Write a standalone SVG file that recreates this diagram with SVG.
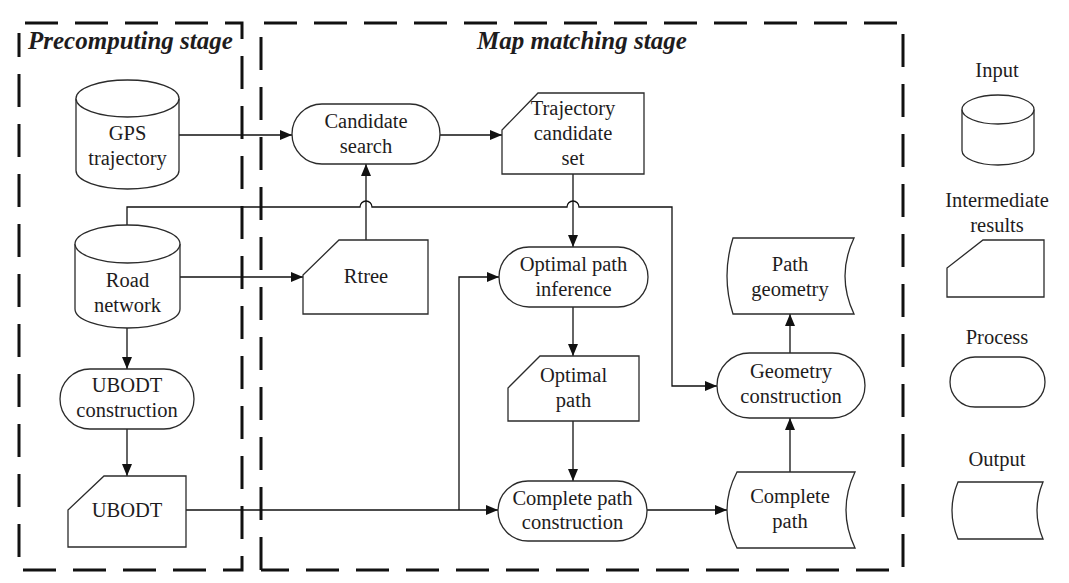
<svg xmlns="http://www.w3.org/2000/svg" width="1069" height="583" viewBox="0 0 1069 583">
<style>
.shape{fill:#fff;stroke:#2b2b2b;stroke-width:1.3}
.t{font-family:"Liberation Serif","Times New Roman",serif;font-size:20.5px;fill:#1e1c1d;text-anchor:middle}
.title{font-family:"Liberation Serif","Times New Roman",serif;font-size:25px;font-weight:bold;font-style:italic;fill:#1e1c1d}
.stage{fill:none;stroke:#111;stroke-width:3;stroke-dasharray:33 17}
.c{fill:none;stroke:#111;stroke-width:1.3}
.a{marker-end:url(#arr)}
</style>
<defs>
<marker id="arr" markerUnits="userSpaceOnUse" markerWidth="12" markerHeight="10" refX="12" refY="5" orient="auto">
<path d="M0,0 L12,5 L0,10 Z" fill="#111"/>
</marker>
</defs>
<rect width="1069" height="583" fill="#fff"/>

<g id="stages">
<path class="stage" d="M25,23 H242 V570 H19 V33"/>
<path class="stage" d="M261,570 V23 H903 V570 H261"/>
<text class="title" x="28" y="49">Precomputing stage</text>
<text class="title" x="477" y="49">Map matching stage</text>
</g>

<g id="connectors">
<path class="c a" d="M179,135 H292"/>
<path class="c a" d="M440,135 H502"/>
<path class="c a" d="M366,240 V164"/>
<path class="c a" d="M180,277 H303"/>
<path class="c a" d="M573,174 V247"/>
<path class="c a" d="M127,225 V207 H360 A6,6 0 0 1 372,207 H567 A6,6 0 0 1 579,207 H672 V386 H717"/>
<path class="c a" d="M127,328 V369"/>
<path class="c a" d="M127,429 V476"/>
<path class="c a" d="M186,510 H498"/>
<path class="c a" d="M459,510 V277 H499"/>
<path class="c a" d="M573,307 V356"/>
<path class="c a" d="M573,421 V481"/>
<path class="c a" d="M647,510 H727"/>
<path class="c a" d="M790,472 V418"/>
<path class="c a" d="M790,353 V314"/>
</g>

<g id="gps-trajectory">
<path class="shape" d="M76,98.5 V170.5 A51.5,18.5 0 0 0 179,170.5 V98.5"/>
<ellipse class="shape" cx="127.5" cy="98.5" rx="51.5" ry="18.5"/>
<text class="t" x="127.5" y="140">GPS</text>
<text class="t" x="127.5" y="165">trajectory</text>
</g>

<g id="road-network">
<path class="shape" d="M75,244 V309 A52.5,19 0 0 0 180,309 V244"/>
<ellipse class="shape" cx="127.5" cy="244" rx="52.5" ry="19"/>
<text class="t" x="127.5" y="287">Road</text>
<text class="t" x="127.5" y="312">network</text>
</g>

<g id="ubodt-construction">
<rect class="shape" x="60" y="369" width="134" height="60" rx="30"/>
<text class="t" x="127" y="392">UBODT</text>
<text class="t" x="127" y="417">construction</text>
</g>

<g id="ubodt">
<path class="shape" d="M104,476 H186 V547 H68 V510 Z"/>
<text class="t" x="127" y="517">UBODT</text>
</g>

<g id="candidate-search">
<rect class="shape" x="292" y="104" width="148" height="60" rx="30"/>
<text class="t" x="366" y="128">Candidate</text>
<text class="t" x="366" y="153">search</text>
</g>

<g id="rtree">
<path class="shape" d="M339,240 H428 V314 H303 V275 Z"/>
<text class="t" x="366" y="283">Rtree</text>
</g>

<g id="trajectory-candidate-set">
<path class="shape" d="M538,93 H644 V174 H502 V130 Z"/>
<text class="t" x="573" y="115">Trajectory</text>
<text class="t" x="573" y="140">candidate</text>
<text class="t" x="573" y="165">set</text>
</g>

<g id="optimal-path-inference">
<rect class="shape" x="499" y="247" width="149" height="60" rx="30"/>
<text class="t" x="573.5" y="271">Optimal path</text>
<text class="t" x="573.5" y="296">inference</text>
</g>

<g id="optimal-path">
<path class="shape" d="M540,356 H639 V421 H508 V388 Z"/>
<text class="t" x="573.5" y="382">Optimal</text>
<text class="t" x="573.5" y="407">path</text>
</g>

<g id="complete-path-construction">
<rect class="shape" x="498" y="481" width="149" height="60" rx="30"/>
<text class="t" x="572.5" y="505">Complete path</text>
<text class="t" x="572.5" y="529">construction</text>
</g>

<g id="complete-path">
<path class="shape" d="M737,472 H855 Q837,510 855,548 H737 Q717,510 737,472 Z"/>
<text class="t" x="790" y="503">Complete</text>
<text class="t" x="790" y="528">path</text>
</g>

<g id="geometry-construction">
<rect class="shape" x="717" y="353" width="148" height="65" rx="32.5"/>
<text class="t" x="791" y="378">Geometry</text>
<text class="t" x="791" y="403">construction</text>
</g>

<g id="path-geometry">
<path class="shape" d="M733,238 H854 Q836,276 854,314 H733 Q721,276 733,238 Z"/>
<text class="t" x="790" y="271">Path</text>
<text class="t" x="790" y="296">geometry</text>
</g>

<g id="legend-input">
<text class="t" x="997" y="77">Input</text>
<path class="shape" d="M962,109.5 V150.5 A36,14.5 0 0 0 1034,150.5 V109.5"/>
<ellipse class="shape" cx="998" cy="109.5" rx="36" ry="14.5"/>
</g>

<g id="legend-intermediate">
<text class="t" x="997" y="207">Intermediate</text>
<text class="t" x="997" y="232">results</text>
<path class="shape" d="M983,240 H1044 V297 H947 V268 Z"/>
</g>

<g id="legend-process">
<text class="t" x="997" y="344">Process</text>
<rect class="shape" x="950" y="357" width="95" height="50" rx="25"/>
</g>

<g id="legend-output">
<text class="t" x="997" y="466">Output</text>
<path class="shape" d="M958,482 H1043 Q1031,510.5 1043,539 H958 Q946,510.5 958,482 Z"/>
</g>
</svg>
